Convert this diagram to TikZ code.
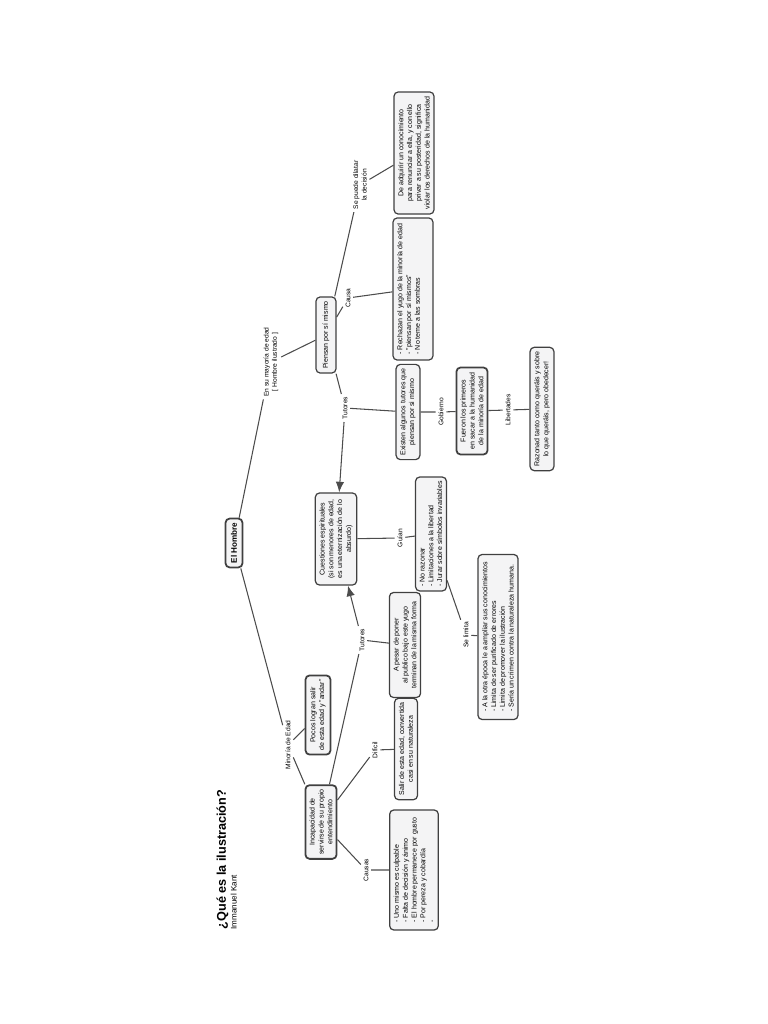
\documentclass[tikz,border=0pt]{standalone}
\usepackage{fontspec}
\setmainfont{Liberation Sans}
\usetikzlibrary{arrows.meta}
\begin{document}
\begin{tikzpicture}[x=0.01cm,y=-0.01cm,
  box/.style={draw=black!75,fill=blue!4!gray!8,rounded corners=1.2pt,line width=0.35pt,rotate=90,align=center,inner sep=1.2pt,font=\fontsize{2}{2.5}\selectfont},
  lbox/.style={box,align=left},
  tbox/.style={box,line width=0.5pt},
  lab/.style={rotate=90,inner sep=0.6pt,font=\fontsize{1.9}{2.4}\selectfont,fill=white,align=center},
  ln/.style={draw=black!70,line width=0.3pt},
  arr/.style={ln,-{Latex[length=3pt,width=2.4pt]}}]
\useasboundingbox (0,0) rectangle (768,1024);
\node[rotate=90,anchor=north west,inner sep=0pt,font=\fontsize{3.6}{4}\selectfont\bfseries] (title) at (216,930) {¿Qué es la ilustración?};
\node[rotate=90,anchor=north west,inner sep=0pt,font=\fontsize{2.3}{2.6}\selectfont] (kant) at (230,930) {Immanuel Kant};
\node[tbox,minimum width=3.8mm,minimum height=1.7mm] (hom) at (234,543) {\bfseries\fontsize{2.3}{2.6}\selectfont El Hombre};
\node[lab] (min) at (288,745) {Minoría de Edad};
\node[tbox,minimum width=5.5mm,minimum height=2.5mm] (poc) at (318,715) {Pocos logran salir\\de esta edad y "andar"};
\node[tbox,minimum width=6.5mm,minimum height=3mm] (inc) at (321,822) {Incapacidad de\\servirse de su propio\\entendimiento};
\node[lab] (cau1) at (366,870) {Causas};
\node[lbox,minimum width=12mm,minimum height=4mm] (caub) at (414,870) {- Uno mismo es culpable\\- Falta de decisión y ánimo\\- El hombre permanece por gusto\\- Por pereza y cobardía\\-};
\node[lab] (dif) at (375,750) {Difícil};
\node[box,minimum width=9.2mm,minimum height=2.3mm] (sal) at (406,749) {Salir de esta edad, convertida\\casi en su naturaleza};
\node[lab] (tut1) at (362,640) {Tutores};
\node[box,minimum width=10.5mm,minimum height=2.6mm] (ape) at (405,645) {A pesar de poner\\al publico bajo este yugo\\terminan de la misma forma};
\node[box,minimum width=9.2mm,minimum height=3.7mm] (cue) at (336,539) {Cuestiones espirituales\\(si son menores de edad,\\es una eternización de lo\\absurdo)};
\node[lab] (gui) at (400,538) {Guían};
\node[lbox,minimum width=11.2mm,minimum height=2.7mm] (nor) at (431,534) {- No razonar\\- Limitaciones a la libertad\\- Jurar sobre símbolos invariables};
\node[lab] (sel) at (466,635) {Se limita};
\node[lbox,minimum width=16.5mm,minimum height=3.4mm] (alo) at (498,637) {- A la otra época le a ampliar sus conocimientos\\- Limita de ser purificado de errores\\- Limita de promover la ilustración\\- Sería un crimen contra la naturaleza humana.};
\node[lab] (may) at (271,362) {En su mayoría de edad\\{[} Hombre ilustrado {]}};
\node[box,minimum width=7.5mm,minimum height=2mm] (pie) at (326,335) {Piensan por sí mismo};
\node[lab] (cau2) at (348,298) {Causa};
\node[lbox,minimum width=14.2mm,minimum height=3.9mm] (rec) at (413,289) {- Rechazan el yugo de la minoría de edad\\- "piensan por sí mismos"\\- No teme a las sombras\\};
\node[lab] (dil) at (360,185) {Se puede dilatar\\la decisión};
\node[box,minimum width=12.2mm,minimum height=3.7mm] (dea) at (414,153) {De adquirir un conocimiento\\para renunciar a ella, y con ello\\privar a su posteridad, significa\\violar los derechos de la humanidad};
\node[lab] (tut2) at (345,408) {Tutores};
\node[box,minimum width=9.5mm,minimum height=2.2mm] (exi) at (408,412) {Existen algunos tutores que\\piensan por si mismo};
\node[lab] (gob) at (441,412) {Gobierno};
\node[tbox,minimum width=8.7mm,minimum height=2.8mm] (fue) at (472,411) {Fueron los primeros\\en sacar a la humanidad\\de la minoría de edad};
\node[lab] (lib) at (508,410) {Libertades};
\node[box,minimum width=12.2mm,minimum height=2.2mm] (raz) at (542,409) {Razonad tanto como queráis y sobre\\lo que queráis, pero obedecer!};
\draw[ln] (hom) -- (min) -- (poc);
\draw[ln] (min) -- (inc);
\draw[ln] (hom) -- (may) -- (pie);
\draw[ln] (inc) -- (tut1) -- (ape);
\draw[arr] (tut1) -- (cue);
\draw[ln] (inc) -- (dif) -- (sal);
\draw[ln] (inc) -- (cau1) -- (caub);
\draw[ln] (cue) -- (gui) -- (nor);
\draw[ln] (nor) -- (sel) -- (alo);
\draw[ln] (pie) -- (cau2) -- (rec);
\draw[ln] (pie) -- (dil) -- (dea);
\draw[ln] (pie) -- (tut2) -- (exi);
\draw[arr] (tut2) -- (cue);
\draw[ln] (exi) -- (gob) -- (fue) -- (lib) -- (raz);
\end{tikzpicture}
\end{document}
